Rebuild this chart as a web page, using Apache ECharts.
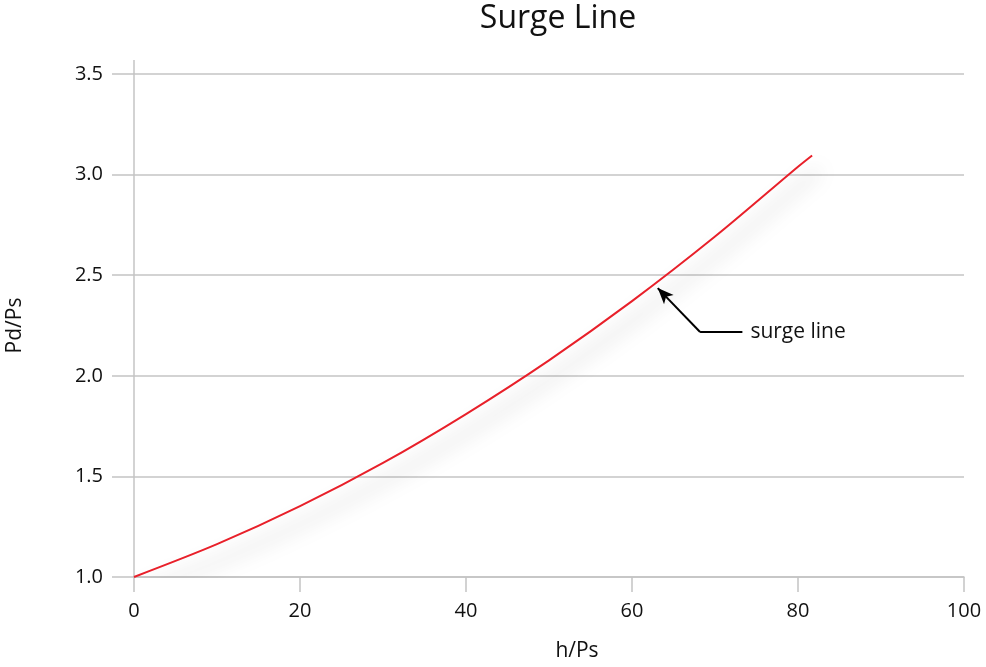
<!DOCTYPE html>
<html><head><meta charset="utf-8">
<script src="https://cdn.jsdelivr.net/npm/echarts@6/dist/echarts.min.js"></script>
<style>html,body{margin:0;padding:0;background:#fff}#c{width:986px;height:667px}</style>
</head><body><div id="c"></div>
<script>
const hPs = [0, 10, 20, 30, 40, 50, 60, 70, 80, 81.7];
const pdPs = [1.0, 1.163, 1.352, 1.567, 1.81, 2.077, 2.371, 2.692, 3.039, 3.095];
const xTicks = [0, 20, 40, 60, 80, 100];
const yTicks = [1.0, 1.5, 2.0, 2.5, 3.0, 3.5];
const annotTip = [63.1, 2.436];
const annotElbow = [68.2, 2.218];
const annotEnd = [73.3, 2.218];
const annotText = 'surge line';

const font = "'Open Sans', 'Noto Sans', sans-serif";
const gray = '#c4c4c4';
const chart = echarts.init(document.getElementById('c'));
chart.setOption({
  animation: false,
  title: { text: 'Surge Line', left: 553, top: -2, textAlign: 'center',
    textStyle: { fontFamily: font, fontSize: 32, fontWeight: 'normal', color: '#111' } },
  grid: { left: 134, right: 22, top: 74, bottom: 90, containLabel: false, outerBoundsMode: 'none' },
  xAxis: {
    type: 'value', min: 0, max: 100, interval: 20,
    name: 'h/Ps', nameLocation: 'middle', nameGap: 64,
    nameTextStyle: { fontFamily: font, fontSize: 21, color: '#111', padding: [0, 0, 0, 56] },
    axisLine: { lineStyle: { color: gray, width: 1.5 } },
    axisTick: { show: true, length: 15, lineStyle: { color: gray, width: 1.5 } },
    axisLabel: { fontFamily: font, fontSize: 20, color: '#111', margin: 24,
      formatter: v => xTicks.includes(v) ? String(v) : '' },
    splitLine: { show: false }
  },
  yAxis: {
    type: 'value', min: 1.0, max: 3.5, interval: 0.5,
    name: 'Pd/Ps', nameLocation: 'middle', nameGap: 108, nameRotate: 90,
    nameTextStyle: { fontFamily: font, fontSize: 21, color: '#111' },
    axisLine: { show: true, lineStyle: { color: gray, width: 1.5 } },
    axisTick: { show: true, length: 22, lineStyle: { color: gray, width: 1.5 } },
    axisLabel: { fontFamily: font, fontSize: 20, color: '#111', margin: 31,
      formatter: v => yTicks.some(t => Math.abs(t - v) < 1e-9) ? v.toFixed(1) : '' },
    splitLine: { show: true, lineStyle: { color: gray, width: 1.5 } }
  },
  series: [{
    type: 'line', smooth: 0.3, symbol: 'none',
    data: hPs.map((x, i) => [x, pdPs[i]]),
    lineStyle: { color: '#e8202a', width: 2,
      shadowColor: 'rgba(0,0,0,0.4)', shadowBlur: 20, shadowOffsetX: 7, shadowOffsetY: 15 },
    markLine: {
      silent: true, animation: false,
      lineStyle: { color: '#000', width: 2, type: 'solid', shadowBlur: 0 },
      data: [
        [{ coord: annotElbow, symbol: 'none' }, { coord: annotTip, symbol: 'arrow', symbolSize: [10, 16] }],
        [{ coord: annotElbow, symbol: 'none' }, { coord: annotEnd, symbol: 'none',
          label: { show: true, position: 'end', formatter: annotText, distance: 8,
            fontFamily: font, fontSize: 21, color: '#111' } }]
      ],
      label: { show: false }
    }
  }]
});
// extend y axis line above the top gridline, as in the reference
const axisTopPx = chart.convertToPixel({ gridIndex: 0 }, [0, 3.5]);
chart.setOption({ graphic: [{ type: 'line', shape: { x1: axisTopPx[0], y1: axisTopPx[1], x2: axisTopPx[0], y2: axisTopPx[1] - 14 },
  style: { stroke: gray, lineWidth: 1.5 } }] });
</script></body></html>
